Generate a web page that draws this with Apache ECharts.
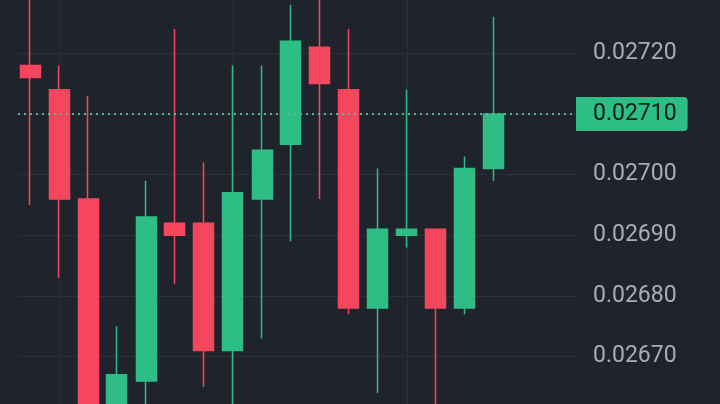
<!DOCTYPE html>
<html>
<head>
<meta charset="utf-8">
<script src="https://cdn.jsdelivr.net/npm/echarts@6/dist/echarts.min.js"></script>
<style>
  html, body { margin: 0; padding: 0; background: #1f242c; }
  #main { width: 720px; height: 404px; }
</style>
</head>
<body>
<div id="main"></div>
<script>
// candle values, index = position on the x axis
var opens  = [0.02718, 0.02714, 0.02696, 0.02658, 0.02666, 0.02692, 0.02692, 0.02671, 0.02696, 0.02705, 0.02721, 0.02714, 0.02678, 0.02690, 0.02691, 0.02678, 0.02701];
var closes = [0.02716, 0.02696, 0.02655, 0.02667, 0.02693, 0.02690, 0.02671, 0.02697, 0.02704, 0.02722, 0.02715, 0.02678, 0.02691, 0.02691, 0.02678, 0.02701, 0.02710];
var lows   = [0.02695, 0.02683, 0.02650, 0.02652, 0.02655, 0.02682, 0.02665, 0.02655, 0.02673, 0.02689, 0.02696, 0.02677, 0.02664, 0.02688, 0.02655, 0.02677, 0.02699];
var highs  = [0.02732, 0.02718, 0.02713, 0.02675, 0.02699, 0.02724, 0.02702, 0.02718, 0.02718, 0.02728, 0.02733, 0.02724, 0.02701, 0.02714, 0.02691, 0.02703, 0.02726];
var lastPrice = 0.02710;
var vGridAt = [1, 7, 13];   // candles where the vertical grid lines sit

var xMin = -12 / 29;
var xMax = 546 / 29;

var upColor = '#2ebd85';
var downColor = '#f6465d';
var gridColor = '#2b3139';

var candleData = opens.map(function (o, i) {
    return [i, o, closes[i], lows[i], highs[i]];
});

var myChart = echarts.init(document.getElementById('main'));

var option = {
    backgroundColor: '#1f242c',
    animation: false,
    grid: {
        left: 18,
        right: 144,
        top: -7.4,
        bottom: -13.3,
        outerBoundsMode: 'none',
        containLabel: false
    },
    xAxis: {
        type: 'value',
        min: xMin,
        max: xMax,
        axisLine: {show: false},
        axisTick: {show: false},
        axisLabel: {show: false},
        splitLine: {show: false}
    },
    yAxis: {
        type: 'value',
        position: 'right',
        min: 0.0266,
        max: 0.0273,
        interval: 0.0001,
        axisLine: {show: false},
        axisTick: {show: false},
        axisLabel: {
            margin: 17,
            color: '#a9adb5',
            fontFamily: 'Roboto',
            fontSize: 23,
            formatter: function (v) {
                return v.toFixed(5);
            }
        },
        splitLine: {
            lineStyle: {color: gridColor, width: 1}
        }
    },
    series: [
        {
            // only carries the vertical grid lines, kept under the candles
            type: 'line',
            data: [],
            silent: true,
            markLine: {
                silent: true,
                z: 0,
                symbol: ['none', 'none'],
                label: {show: false},
                lineStyle: {type: 'solid', color: gridColor, width: 1},
                data: vGridAt.map(function (x) {
                    return {xAxis: x};
                })
            }
        },
        {
            type: 'candlestick',
            barWidth: 20.5,
            data: candleData,
            itemStyle: {
                color: upColor,
                color0: downColor,
                borderColor: upColor,
                borderColor0: downColor,
                borderWidth: 1.5
            }
        },
        {
            // last price line with its tag on the axis
            type: 'line',
            data: [],
            silent: true,
            markLine: {
                silent: true,
                z: 5,
                symbol: ['none', 'none'],
                lineStyle: {type: [2, 4], color: '#5fb39a', width: 2},
                label: {
                    show: true,
                    position: 'end',
                    distance: 0,
                    formatter: lastPrice.toFixed(5),
                    color: '#0f1d17',
                    fontFamily: 'Roboto',
                    fontSize: 23,
                    lineHeight: 25,
                    backgroundColor: upColor,
                    borderRadius: [0, 4, 4, 0],
                    padding: [5, 11, 4, 17]
                },
                data: [[
                    {coord: [xMin, lastPrice]},
                    {coord: [xMax, lastPrice]}
                ]]
            }
        }
    ]
};

option && myChart.setOption(option);
</script>
</body>
</html>
